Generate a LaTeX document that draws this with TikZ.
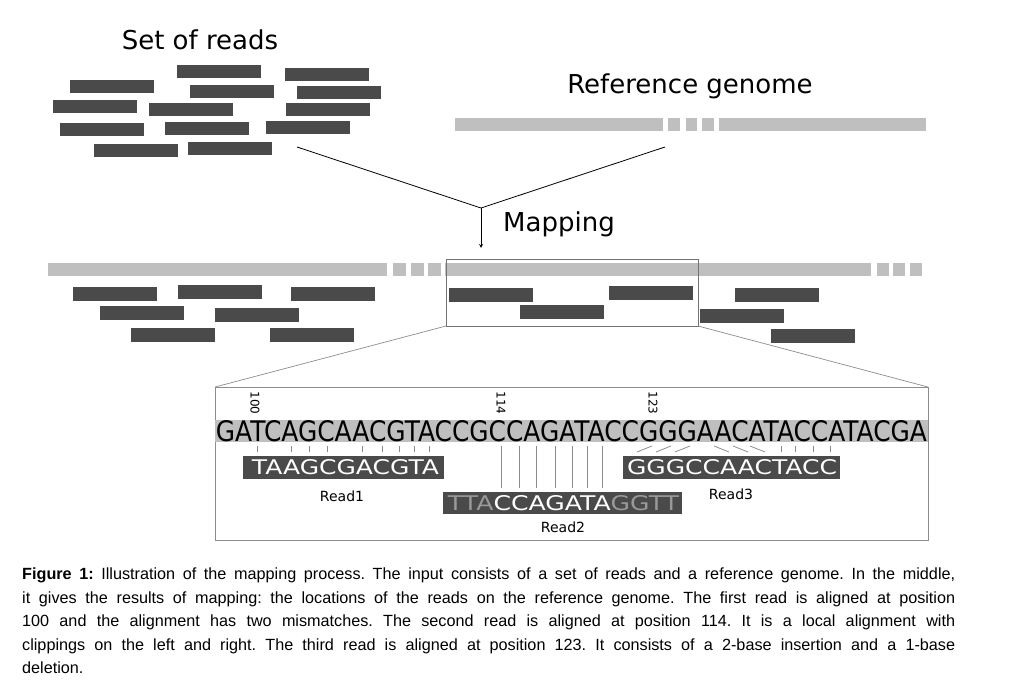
\documentclass[tikz,border=0pt]{standalone}
\usepackage{fontspec}
\newfontfamily\djv{DejaVu Sans}
\newfontfamily\lib{Liberation Sans}
\begin{document}
\begin{tikzpicture}[x=1pt,y=-1pt,
  rd/.style={fill=black!71},
  gn/.style={fill=black!25},
  tk/.style={black!45,line width=0.8pt},
  lbl/.style={font=\djv\fontsize{26}{30}\selectfont,inner sep=0},
  small/.style={font=\djv\fontsize{14}{16}\selectfont,inner sep=0},
  poslbl/.style={font=\djv\fontsize{12}{14}\selectfont,inner sep=0,rotate=-90}]
\useasboundingbox (0,0) rectangle (1024,691);
% labels
\node[lbl] (setlbl) at (200,40) {Set of reads};
\node[lbl] (reflbl) at (690,86) {Reference genome};
\node[lbl] (maplbl) at (559,224) {Mapping};
% top reads
\foreach \x/\y in {177/65,285/68,70/80,190/85,297/86,53/100,149/103,286/103,60/123,165/122,266/121,94/144,188/142}
  \fill[rd] (\x,\y) rectangle ++(84,13);
% top reference
\foreach \a/\b in {455/663,668/680,686/697,702/714,719/926}
  \fill[gn] (\a,118) rectangle (\b,131);
% mapping lines
\coordinate (l) at (297,147); \coordinate (r) at (665,147);
\coordinate (m) at (481,208); \coordinate (me) at (481,248);
\draw[line width=0.8pt] (l) -- (m) -- (r);
\draw[-stealth,line width=0.8pt] (m) -- (me);
% middle reference
\foreach \a/\b in {48/387,393/406,411/424,428/441,445/871,877/889,893/905,910/922}
  \fill[gn] (\a,263) rectangle (\b,276);
% middle reads
\foreach \x/\y in {73/287,178/285,291/287,100/306,215/308,131/328,270/328,449/288,609/286,520/305,735/288,700/309,771/329}
  \fill[rd] (\x,\y) rectangle ++(84,14);
% zoom box
\draw[black!55,line width=0.7pt] (446,259) rectangle (698,326);
\draw[black!45,line width=0.7pt] (446,326) -- (215,387) (698,326) -- (928,387);
\draw[black!45,line width=0.8pt] (215,387) rectangle (928,540);
% detail
\fill[gn] (215,420) rectangle (928,442);
\node[inner sep=0] (genome) at (571.5,431) {\resizebox{711pt}{21pt}{\djv GATCAGCAACGTACCGCCAGATACCGGGAACATACCATACGA}};
\node[poslbl] (p100) at (255,403) {100};
\node[poslbl] (p114) at (501,403) {114};
\node[poslbl] (p123) at (653,403) {123};
% read1
\fill[rd] (243,456) rectangle (444,479);
\node[inner sep=0,white] (r1) at (345.5,467.5) {\resizebox{187pt}{15pt}{\djv TAAGCGACGTA}};
\foreach \x in {257,291,309,327,362,382,399,414,429} \draw[tk] (\x,446) -- (\x,452);
\node[small] (r1l) at (342,496) {Read1};
% read2
\fill[rd] (443,492) rectangle (682,514);
\node[inner sep=0] (r2) at (563.5,503) {\resizebox{231pt}{15pt}{\djv\textcolor{black!40}{TTA}\textcolor{white}{CCAGATA}\textcolor{black!40}{GGTT}}};
\foreach \x in {501,519,536,555,572,587,602} \draw[tk] (\x,446) -- (\x,488);
\node[small] (r2l) at (563,527) {Read2};
% read3
\fill[rd] (623,456) rectangle (840,479);
\node[inner sep=0,white] (r3) at (732,467.5) {\resizebox{210pt}{15pt}{\djv GGGCCAACTACC}};
\foreach \x in {781,795,813,830} \draw[tk] (\x,446) -- (\x,452);
\foreach \a in {637,656,675} \draw[tk] (\a,452) -- (\a+15,446);
\foreach \a in {714,733,750} \draw[tk] (\a,446) -- (\a+15,452);
\node[small] (r3l) at (731,494) {Read3};
% caption
\node[anchor=north west,inner sep=0] (cap) at (22,568) {\parbox{933pt}{\lib\fontsize{16.2}{23.4}\selectfont\parindent=0pt\frenchspacing
\textbf{Figure 1:} Illustration of the mapping process. The input consists of a set of reads and a reference genome. In the middle,\linebreak
it gives the results of mapping: the locations of the reads on the reference genome. The first read is aligned at position\linebreak
100 and the alignment has two mismatches. The second read is aligned at position 114. It is a local alignment with\linebreak
clippings on the left and right. The third read is aligned at position 123. It consists of a 2-base insertion and a 1-base\linebreak
deletion.}};
\end{tikzpicture}
\end{document}
